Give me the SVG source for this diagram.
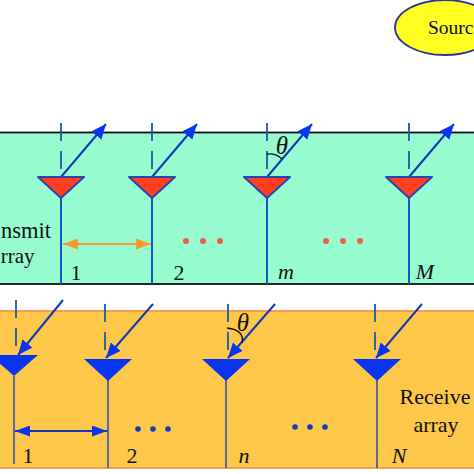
<svg xmlns="http://www.w3.org/2000/svg" width="474" height="474" viewBox="0 0 474 474">
<style>
text{font-family:"Liberation Serif","Times New Roman",serif;fill:#111}
.lb{font-size:22px;text-anchor:middle}
.it{font-style:italic}
.big{font-size:22px}
.th{font-size:25px;font-style:italic;text-anchor:middle}
.tx{fill:#ff3f1f;stroke:#2b45b0;stroke-width:2;stroke-linejoin:round}
.rx{fill:#0a35f0;stroke:none}
.stem{stroke:#1259c8;stroke-width:2;fill:none}
.stemr{stroke:#5a6a9a;stroke-width:2;fill:none}
.dash{stroke:#1a5aa8;stroke-width:1.8;stroke-dasharray:18 10;fill:none}
.ray{stroke:#1238b8;stroke-width:2;fill:none}
.arc{stroke:#111;stroke-width:1.4;fill:none}
.dt{fill:#e8604c}
.dr{fill:#1a35c8}
</style>
<defs>
<marker id="ah" markerUnits="userSpaceOnUse" markerWidth="18" markerHeight="14" refX="15" refY="6.5" orient="auto"><path d="M0 0L15 6.500L0 13Z" fill="#0a35f0"/></marker>
<marker id="oe" markerUnits="userSpaceOnUse" markerWidth="16" markerHeight="12" refX="15" refY="5.500" orient="auto"><path d="M0 0L15 5.500L0 11Z" fill="#f79a2e"/></marker>
<marker id="os" markerUnits="userSpaceOnUse" markerWidth="16" markerHeight="12" refX="0" refY="5.500" orient="auto"><path d="M15 0L0 5.500L15 11Z" fill="#f79a2e"/></marker>
<marker id="be" markerUnits="userSpaceOnUse" markerWidth="16" markerHeight="12" refX="15" refY="5.500" orient="auto"><path d="M0 0L15 5.500L0 11Z" fill="#0a35f0"/></marker>
<marker id="bs" markerUnits="userSpaceOnUse" markerWidth="16" markerHeight="12" refX="0" refY="5.500" orient="auto"><path d="M15 0L0 5.500L15 11Z" fill="#0a35f0"/></marker>
</defs>
<rect width="474" height="474" fill="#fff"/>
<g id="transmit-band">
<rect x="-2" y="132.500" width="478" height="151.500" fill="#96fccf" stroke="#111" stroke-width="1.800"/>
<text x="51" y="238" text-anchor="end" style="font-size:22.500px">nsmit</text>
<text x="34.500" y="263" text-anchor="end" style="font-size:21px">rray</text>
</g>
<g id="receive-band">
<rect x="-2" y="311" width="478" height="157" fill="#fdc84a" stroke="#f79646" stroke-width="1.800"/>
<text class="big" x="435" y="404" text-anchor="middle">Receive</text>
<text class="big" x="436" y="432" text-anchor="middle">array</text>
</g>
<g id="connectors">
<path class="dash" d="M61 123V177M152 123V177M267 123V177M409 123V177"/>
<path class="stem" d="M61 198V284M152 198V284M267 198V284M409 198V284"/>
<path class="ray" marker-end="url(#ah)" d="M61 177L106 124"/>
<path class="ray" marker-end="url(#ah)" d="M152 177L197 124"/>
<path class="ray" marker-end="url(#ah)" d="M267 177L312 124"/>
<path class="ray" marker-end="url(#ah)" d="M409 177L454 124"/>
<path d="M63 244H151" stroke="#f79a2e" stroke-width="1.800" marker-start="url(#os)" marker-end="url(#oe)"/>
<path class="dash" d="M16 300V352M105 304V352M228 304V352M375 304V352"/>
<path class="stemr" d="M14 376V464M108 380V468M226 380V468M377 380V468"/>
<path class="ray" marker-end="url(#ah)" d="M63 300L18 355"/>
<path class="ray" marker-end="url(#ah)" d="M153 304L106 358"/>
<path class="ray" marker-end="url(#ah)" d="M275 304L228 358"/>
<path class="ray" marker-end="url(#ah)" d="M422 304L376 358"/>
<path d="M15 431H107" stroke="#1238b8" stroke-width="1.800" marker-start="url(#bs)" marker-end="url(#be)"/>
<path class="arc" d="M267 154Q276 153 282 159"/>
<path class="arc" d="M227 328Q245 330 242 343"/>
</g>
<g id="source"><ellipse cx="445" cy="27.500" rx="50" ry="27.500" fill="#ffff22" stroke="#2b3a90" stroke-width="1.800"/><text x="428" y="34" font-size="19.500">Sourc</text></g>
<g id="tx1"><path class="tx" d="M38 177H84L61 198Z"/><text class="lb" x="76" y="280">1</text></g>
<g id="tx2"><path class="tx" d="M129 177H175L152 198Z"/><text class="lb" x="179" y="280">2</text></g>
<g id="txm"><path class="tx" d="M244 177H290L267 198Z"/><text class="lb it" x="286" y="279">m</text><text class="th" x="282" y="154">θ</text></g>
<g id="txM"><path class="tx" d="M386 177H432L409 198Z"/><text class="lb it" x="425" y="279">M</text></g>
<g id="rx1"><path class="rx" d="M-10 355H38L14 376Z"/><text class="lb" x="28" y="463">1</text></g>
<g id="rx2"><path class="rx" d="M84 359H132L108 381Z"/><text class="lb" x="132" y="463">2</text></g>
<g id="rxn"><path class="rx" d="M202 359H250L226 381Z"/><text class="lb it" x="244" y="463">n</text><text class="th" x="243" y="331">θ</text></g>
<g id="rxN"><path class="rx" d="M353 359H401L377 381Z"/><text class="lb it" x="399" y="463">N</text></g>
<g id="dots">
<circle class="dt" cx="186" cy="241" r="3"/><circle class="dt" cx="203" cy="241" r="3"/><circle class="dt" cx="220" cy="241" r="3"/>
<circle class="dt" cx="326" cy="241" r="3"/><circle class="dt" cx="343" cy="241" r="3"/><circle class="dt" cx="360" cy="241" r="3"/>
<circle class="dr" cx="138" cy="429" r="2.800"/><circle class="dr" cx="153" cy="429" r="2.800"/><circle class="dr" cx="168" cy="429" r="2.800"/>
<circle class="dr" cx="295" cy="427" r="2.800"/><circle class="dr" cx="310" cy="427" r="2.800"/><circle class="dr" cx="325" cy="427" r="2.800"/>
</g>
</svg>
